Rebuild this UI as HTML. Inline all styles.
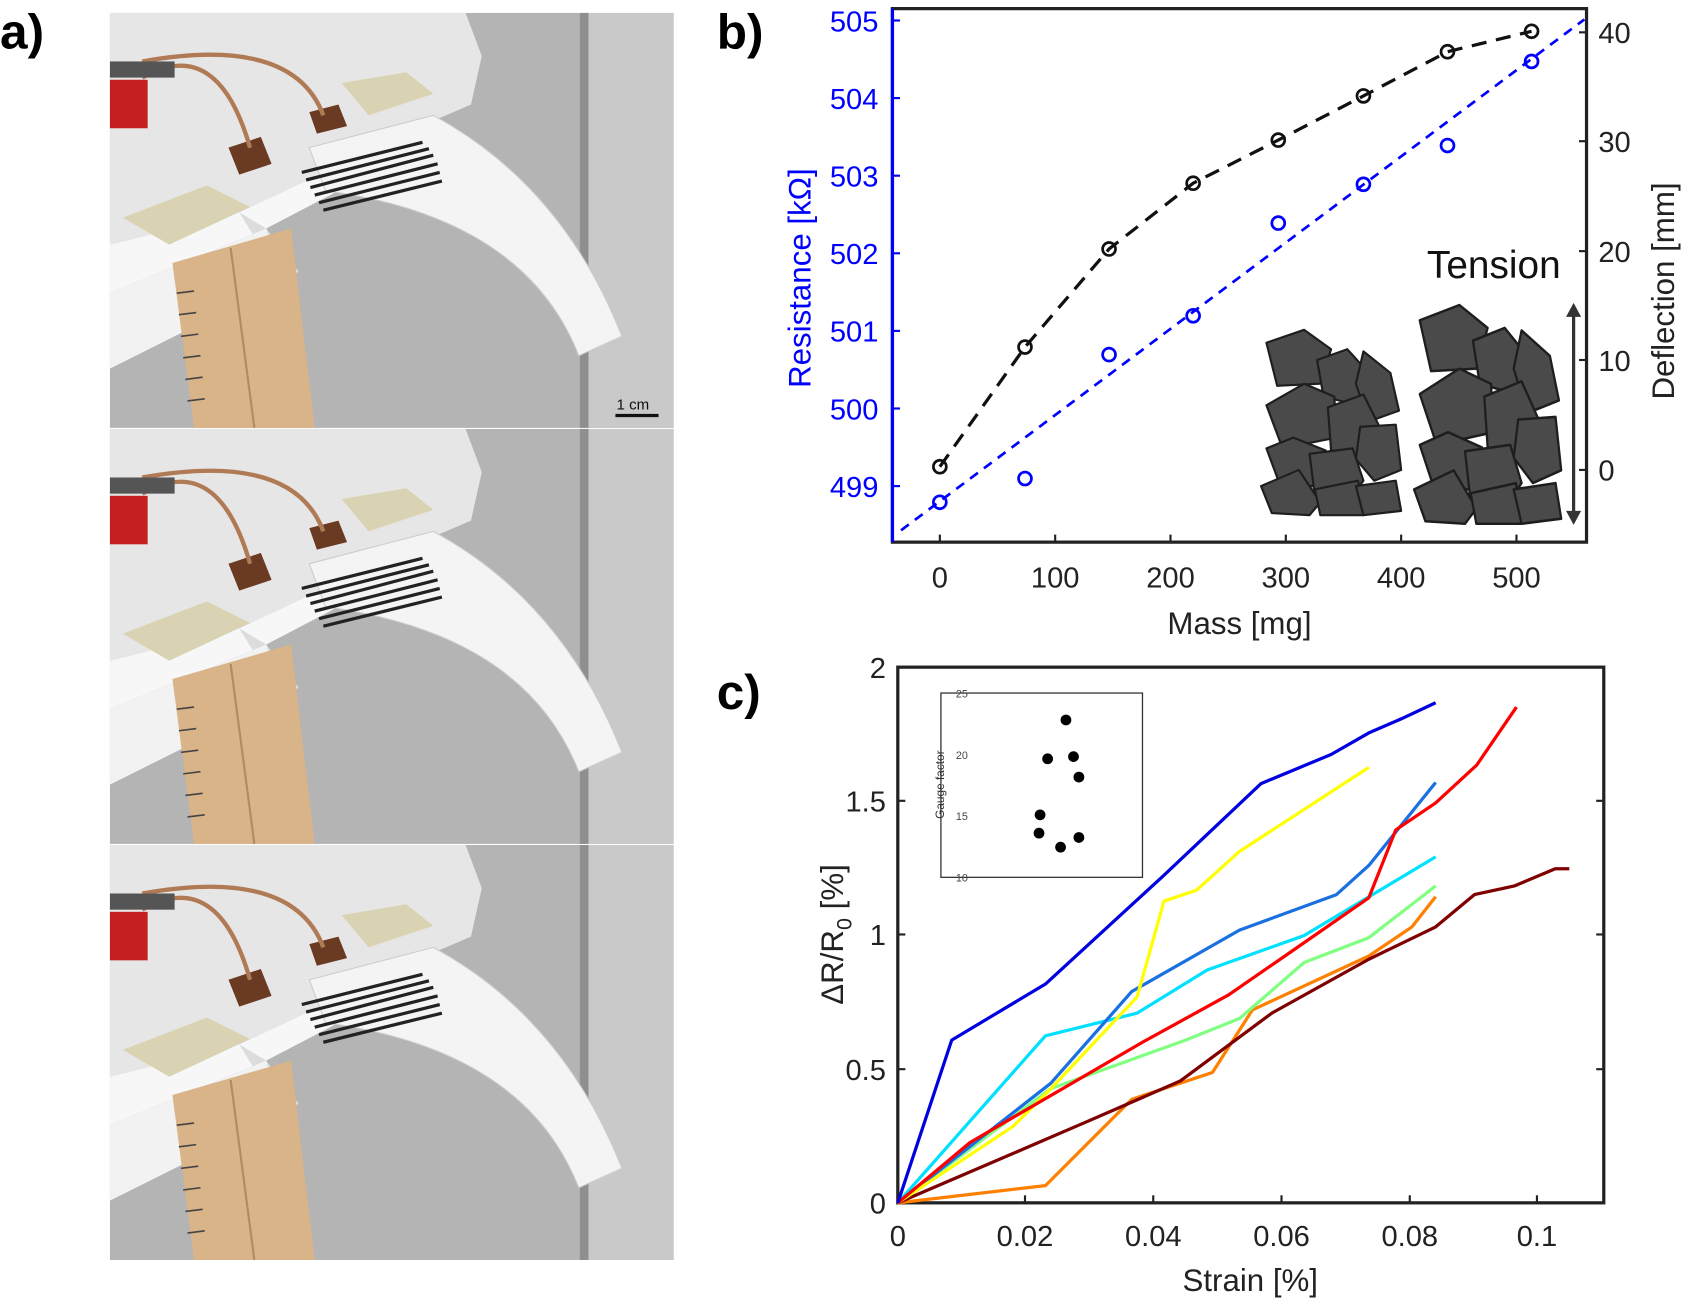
<!DOCTYPE html>
<html><head><meta charset="utf-8"><style>html,body{margin:0;padding:0;background:#fff}svg{display:block}</style></head><body>
<svg width="1690" height="1302" viewBox="0 0 1568 1208" xmlns="http://www.w3.org/2000/svg" font-family="Liberation Sans, Arial, sans-serif">
<defs>
<g id="photo">
<rect x="0" y="0" width="523" height="385" fill="#b4b4b4"/>
<rect x="440" y="0" width="83" height="385" fill="#c9c9c9"/>
<rect x="436" y="0" width="8" height="385" fill="#8f8f8f"/>
<polygon points="0,0 330,0 345,40 335,85 300,100 120,185 0,215" fill="#e6e6e6"/>
<polygon points="0,215 120,185 300,100 302,118 145,200 0,260" fill="#f7f7f7"/>
<polygon points="120,185 145,200 175,240 160,250" fill="#dcdcdc"/>
<polygon points="0,260 145,200 160,250 60,300 0,330" fill="#f2f2f2"/>
<polygon points="12,190 90,160 130,180 55,215" fill="#d9d3b3"/>
<polygon points="215,65 275,55 300,75 240,95" fill="#d9d3b3"/>
<polygon points="58,232 168,200 190,385 78,385" fill="#d8b488"/>
<line x1="112" y1="218" x2="134" y2="385" stroke="#b08c60" stroke-width="2"/>
<g stroke="#444" stroke-width="1.5">
<line x1="62" y1="260" x2="78" y2="258"/><line x1="64" y1="280" x2="80" y2="278"/><line x1="66" y1="300" x2="82" y2="298"/><line x1="68" y1="320" x2="84" y2="318"/><line x1="70" y1="340" x2="86" y2="338"/><line x1="72" y1="360" x2="88" y2="358"/>
</g>
<path d="M185,125 L300,95 Q420,160 475,300 L435,318 Q385,190 200,165 Z" fill="#f4f4f4" stroke="#ccc"/>
<g stroke="#222" stroke-width="3" fill="none">
<path d="M178,148 L290,120"/><path d="M182,155 L296,126"/><path d="M186,162 L300,132"/><path d="M190,169 L304,140"/><path d="M194,176 L306,148"/><path d="M198,183 L308,156"/>
</g>
<polygon points="110,125 140,115 150,140 120,150" fill="#6b3a22"/>
<polygon points="185,92 212,85 220,105 192,112" fill="#6b3a22"/>
<path d="M30,60 Q100,20 130,125 M30,45 Q170,20 198,95" stroke="#b07a55" stroke-width="4" fill="none"/>
<rect x="0" y="62" width="35" height="45" fill="#c42020"/>
<rect x="0" y="45" width="60" height="15" fill="#555"/>
</g>
<g id="flakes" fill="#4a4a4a" stroke="#1e1e1e" stroke-width="2" stroke-linejoin="round">
<polygon points="5,12 40,0 65,18 55,50 15,52"/>
<polygon points="52,28 80,18 100,40 90,70 58,62"/>
<polygon points="95,20 120,40 128,75 100,85 88,50"/>
<polygon points="5,70 40,50 68,62 70,100 20,110"/>
<polygon points="62,72 95,60 110,90 95,120 65,112"/>
<polygon points="92,90 125,88 130,130 105,140 88,120"/>
<polygon points="5,110 30,100 60,112 62,145 18,145"/>
<polygon points="45,115 85,110 95,140 80,160 50,155"/>
<polygon points="0,145 35,130 55,160 45,172 10,170"/>
<polygon points="50,148 90,140 95,172 55,172"/>
<polygon points="88,145 125,140 130,168 95,172"/>
</g>
</defs>
<rect width="1568" height="1208" fill="#fff"/>
<!-- panel a -->
<use href="#photo" x="102" y="12"/>
<use href="#photo" x="102" y="398"/>
<use href="#photo" x="102" y="784"/>
<text x="572" y="380" font-size="14" fill="#111">1 cm</text>
<rect x="571" y="384" width="40" height="3" fill="#111"/>
<text x="0" y="45" font-size="46" font-weight="bold">a)</text>
<text x="665" y="45" font-size="46" font-weight="bold">b)</text>
<text x="665" y="658" font-size="46" font-weight="bold">c)</text>

<!-- panel b -->
<g>
<rect x="828" y="8" width="644" height="495" fill="none" stroke="#222" stroke-width="3"/>
<line x1="828" y1="8" x2="828" y2="503" stroke="#0000ff" stroke-width="3"/>
<g font-size="27" fill="#222" text-anchor="middle">
<text x="872" y="545">0</text><text x="979" y="545">100</text><text x="1086" y="545">200</text><text x="1193" y="545">300</text><text x="1300" y="545">400</text><text x="1407" y="545">500</text>
</g>
<g stroke="#222" stroke-width="2">
<line x1="872" y1="503" x2="872" y2="496"/><line x1="979" y1="503" x2="979" y2="496"/><line x1="1086" y1="503" x2="1086" y2="496"/><line x1="1193" y1="503" x2="1193" y2="496"/><line x1="1300" y1="503" x2="1300" y2="496"/><line x1="1407" y1="503" x2="1407" y2="496"/>
<line x1="1472" y1="30" x2="1465" y2="30"/><line x1="1472" y1="131" x2="1465" y2="131"/><line x1="1472" y1="233" x2="1465" y2="233"/><line x1="1472" y1="334" x2="1465" y2="334"/><line x1="1472" y1="436" x2="1465" y2="436"/>
</g>
<g font-size="27" fill="#0000ff" text-anchor="end">
<text x="815" y="29">505</text><text x="815" y="101">504</text><text x="815" y="173">503</text><text x="815" y="245">502</text><text x="815" y="317">501</text><text x="815" y="389">500</text><text x="815" y="461">499</text>
</g>
<g stroke="#0000ff" stroke-width="2">
<line x1="828" y1="19" x2="835" y2="19"/><line x1="828" y1="91" x2="835" y2="91"/><line x1="828" y1="163" x2="835" y2="163"/><line x1="828" y1="235" x2="835" y2="235"/><line x1="828" y1="307" x2="835" y2="307"/><line x1="828" y1="379" x2="835" y2="379"/><line x1="828" y1="451" x2="835" y2="451"/>
</g>
<g font-size="27" fill="#222">
<text x="1483" y="40">40</text><text x="1483" y="141">30</text><text x="1483" y="243">20</text><text x="1483" y="344">10</text><text x="1483" y="446">0</text>
</g>
<text x="1150" y="588" font-size="29" text-anchor="middle" fill="#222">Mass [mg]</text>
<text transform="translate(752,258) rotate(-90)" font-size="29" text-anchor="middle" fill="#0000ff">Resistance [kΩ]</text>
<text transform="translate(1553,270) rotate(-90)" font-size="29" text-anchor="middle" fill="#222">Deflection [mm]</text>
<line x1="836" y1="492" x2="1470" y2="18" stroke="#0000ff" stroke-width="2.5" stroke-dasharray="9,7"/>
<polyline points="872,433 951,322 1029,231 1107,170 1186,130 1265,89 1343,48 1421,29" fill="none" stroke="#111" stroke-width="3" stroke-dasharray="14,9"/>
<g fill="none" stroke="#111" stroke-width="2.5">
<circle cx="872" cy="433" r="6"/><circle cx="951" cy="322" r="6"/><circle cx="1029" cy="231" r="6"/><circle cx="1107" cy="170" r="6"/><circle cx="1186" cy="130" r="6"/><circle cx="1265" cy="89" r="6"/><circle cx="1343" cy="48" r="6"/><circle cx="1421" cy="29" r="6"/>
</g>
<g fill="none" stroke="#0000ff" stroke-width="2.5">
<circle cx="872" cy="466" r="6"/><circle cx="951" cy="444" r="6"/><circle cx="1029" cy="329" r="6"/><circle cx="1107" cy="293" r="6"/><circle cx="1186" cy="207" r="6"/><circle cx="1265" cy="171" r="6"/><circle cx="1343" cy="135" r="6"/><circle cx="1421" cy="57" r="6"/>
</g>
<text x="1448" y="258" font-size="36" text-anchor="end" fill="#111">Tension</text>
<use href="#flakes" transform="translate(1170,306)"/>
<use href="#flakes" transform="translate(1312,283) scale(1.05,1.18)"/>
<line x1="1460" y1="292" x2="1460" y2="476" stroke="#333" stroke-width="3"/>
<polygon points="1453,294 1460,281 1467,294" fill="#333"/>
<polygon points="1453,474 1460,487 1467,474" fill="#333"/>
</g>

<!-- panel c -->
<g>
<rect x="833" y="619" width="655" height="497" fill="none" stroke="#222" stroke-width="3"/>
<g font-size="27" fill="#222" text-anchor="middle">
<text x="833" y="1156">0</text><text x="951" y="1156">0.02</text><text x="1070" y="1156">0.04</text><text x="1189" y="1156">0.06</text><text x="1308" y="1156">0.08</text><text x="1426" y="1156">0.1</text>
</g>
<g font-size="27" fill="#222" text-anchor="end">
<text x="822" y="1126">0</text><text x="822" y="1002">0.5</text><text x="822" y="877">1</text><text x="822" y="753">1.5</text><text x="822" y="629">2</text>
</g>
<g stroke="#222" stroke-width="2">
<line x1="951" y1="1116" x2="951" y2="1109"/><line x1="1070" y1="1116" x2="1070" y2="1109"/><line x1="1189" y1="1116" x2="1189" y2="1109"/><line x1="1308" y1="1116" x2="1308" y2="1109"/><line x1="1426" y1="1116" x2="1426" y2="1109"/>
<line x1="833" y1="992" x2="840" y2="992"/><line x1="833" y1="867" x2="840" y2="867"/><line x1="833" y1="743" x2="840" y2="743"/>
<line x1="1488" y1="992" x2="1481" y2="992"/><line x1="1488" y1="867" x2="1481" y2="867"/><line x1="1488" y1="743" x2="1481" y2="743"/>
</g>
<text x="1160" y="1198" font-size="29" text-anchor="middle" fill="#222">Strain [%]</text>
<text transform="translate(782,867) rotate(-90)" font-size="29" text-anchor="middle" fill="#222">ΔR/R<tspan font-size="20" dy="8">0</tspan><tspan dy="-8"> [%]</tspan></text>
<g fill="none" stroke-width="3" stroke-linejoin="round">
<polyline stroke="#ff8000" points="833,1116 970,1100 1050,1020 1125,995 1162,937 1270,887 1310,860 1332,832"/>
<polyline stroke="#7f0000" points="833,1116 945,1068 1010,1040 1095,1003 1180,940 1270,890 1332,860 1368,830 1405,822 1443,806 1456,806"/>
<polyline stroke="#80ff80" points="833,1116 975,1010 1100,965 1150,945 1210,893 1270,870 1332,822"/>
<polyline stroke="#00e0ff" points="833,1116 970,961 1055,940 1120,900 1210,868 1332,795"/>
<polyline stroke="#1a70e0" points="833,1116 975,1005 1050,920 1150,863 1240,830 1270,803 1332,726"/>
<polyline stroke="#ffff00" points="833,1116 940,1045 975,1010 1055,925 1080,836 1110,826 1150,790 1270,712"/>
<polyline stroke="#ff0000" points="833,1116 900,1060 1060,967 1140,923 1195,885 1270,833 1295,770 1332,745 1370,710 1407,656"/>
<polyline stroke="#0000e0" points="833,1116 883,965 970,913 1080,812 1170,727 1235,700 1270,680 1300,667 1332,652"/>
</g>
<rect x="873" y="643" width="187" height="171" fill="#fff" stroke="#333" stroke-width="1.2"/>
<g font-size="10" fill="#444" text-anchor="end">
<text x="898" y="647">25</text><text x="898" y="704">20</text><text x="898" y="761">15</text><text x="898" y="818">10</text>
</g>
<text transform="translate(876,728) rotate(-90)" font-size="11" text-anchor="middle" fill="#333">Gauge factor</text>
<g fill="#000">
<circle cx="989" cy="668" r="5"/><circle cx="972" cy="704" r="5"/><circle cx="996" cy="702" r="5"/><circle cx="1001" cy="721" r="5"/><circle cx="965" cy="756" r="5"/><circle cx="964" cy="773" r="5"/><circle cx="984" cy="786" r="5"/><circle cx="1001" cy="777" r="5"/>
</g>
</g>
</svg>
</body></html>
